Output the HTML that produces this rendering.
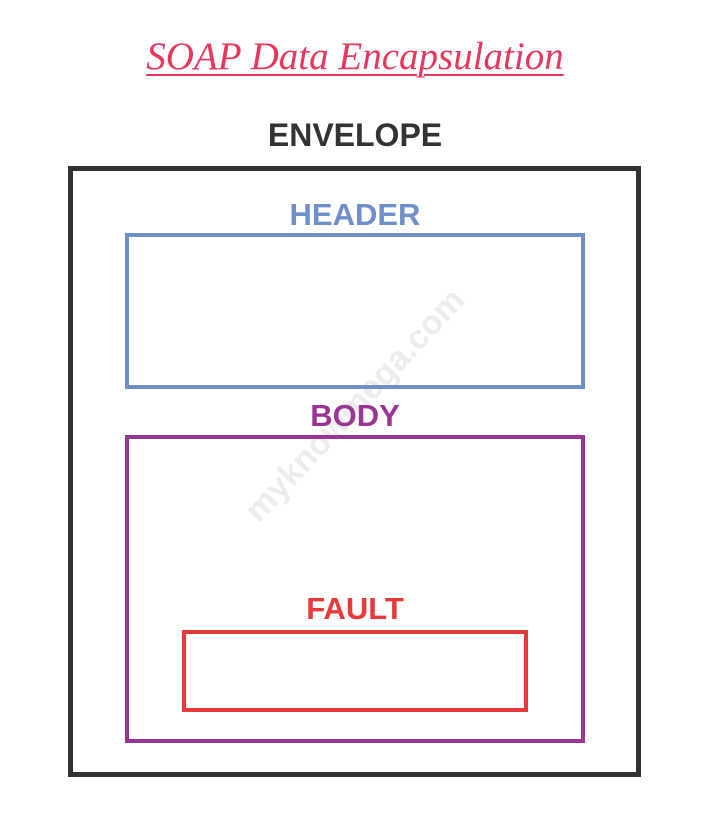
<!DOCTYPE html>
<html><head><meta charset="utf-8"><style>
body{margin:0;width:710px;height:815px;background:#fff;position:relative;overflow:hidden;font-family:"Liberation Sans",sans-serif}
.b{position:absolute;box-sizing:border-box}
.t{position:absolute;left:0;width:710px;text-align:center;font-weight:bold;line-height:1}
</style></head><body>
<div class="t" style="top:37px;font-family:'Liberation Serif',serif;font-style:italic;font-weight:normal;font-size:39px;color:#e8375e;"><span style="text-decoration:underline;text-decoration-thickness:2px;text-underline-offset:5px">SOAP Data Encapsulation</span></div>
<div class="t" style="top:119px;font-size:32px;color:#333">ENVELOPE</div>
<div class="b" style="left:68px;top:166px;width:573px;height:611px;border:5px solid #333"></div>
<div style="position:absolute;left:180px;top:386px;width:350px;text-align:center;font-size:34px;color:#ececec;font-weight:bold;transform:rotate(-47deg)">myknowmega.com</div>
<div class="t" style="top:199px;font-size:31px;color:#6f8fca">HEADER</div>
<div class="b" style="left:125px;top:233px;width:460px;height:156px;border:4px solid #6f8fca"></div>
<div class="t" style="top:400px;font-size:31px;color:#9b3593">BODY</div>
<div class="b" style="left:125px;top:435px;width:460px;height:308px;border:4px solid #9b3593"></div>
<div class="t" style="top:593px;font-size:31px;color:#e83a3a">FAULT</div>
<div class="b" style="left:182px;top:630px;width:346px;height:82px;border:4px solid #e83a3a"></div>
</body></html>
